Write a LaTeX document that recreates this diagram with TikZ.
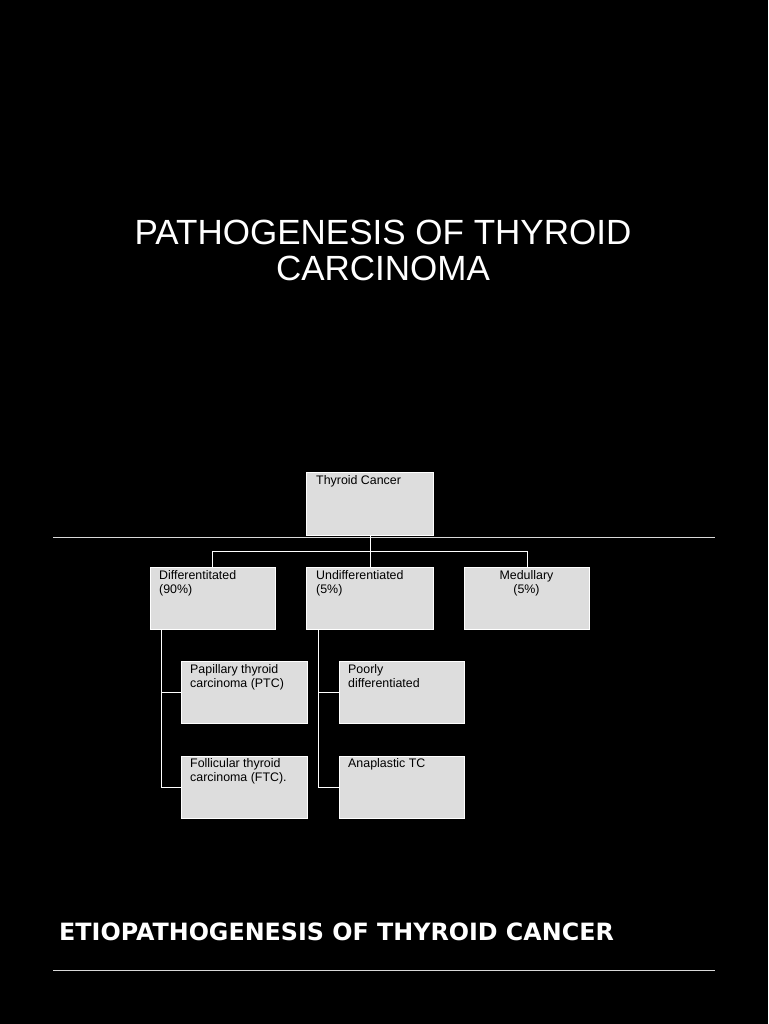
\documentclass[tikz,border=0pt]{standalone}
\usepackage{fontspec}
\setmainfont{Liberation Sans}
\newfontfamily\dejab{DejaVu Sans}
\begin{document}
\begin{tikzpicture}[x=1pt,y=-1pt,
 bx/.style={draw=white,fill={rgb,255:red,221;green,221;blue,221},line width=0.8pt},
 tx/.style={anchor=north west,font=\fontsize{12.4}{14.2}\selectfont,align=left,inner sep=0pt,text=black},
 ln/.style={draw=white,line width=0.7pt}]
\useasboundingbox[fill=black] (0,0) rectangle (768,1024);
\node[text=white,font=\fontsize{35}{36}\selectfont,align=center] (title) at (383,250) {PATHOGENESIS OF THYROID\\CARCINOMA};
\draw[ln,white!85!black] (53,537) -- (715,537);
\draw[bx] (306,472) rectangle (433,535); \coordinate (tc) at (370,535);
\node[tx] (t1) at (316,475) {Thyroid Cancer};
\draw[bx] (150,567) rectangle (275,629);
\node[tx] (t2) at (159,570) {Differentitated\\(90\%)};
\draw[bx] (306,567) rectangle (433,629);
\node[tx] (t3) at (316,570) {Undifferentiated\\(5\%)};
\draw[bx] (464,567) rectangle (589,629);
\node[tx,anchor=north,align=center] (t4) at (526.5,570) {Medullary\\(5\%)};
\draw[bx] (181,661) rectangle (307,723);
\node[tx] (t5) at (190,664) {Papillary thyroid\\carcinoma (PTC)};
\draw[bx] (339,661) rectangle (464,723);
\node[tx] (t6) at (348,664) {Poorly\\differentiated};
\draw[bx] (181,756) rectangle (307,818);
\node[tx] (t7) at (190,758) {Follicular thyroid\\carcinoma (FTC).};
\draw[bx] (339,756) rectangle (464,818);
\node[tx] (t8) at (348,758) {Anaplastic TC};
\draw[ln] (tc) -- (370,551) (212,567) -- (212,551) -- (527,551) -- (527,567) (370,551) -- (370,567);
\draw[ln] (161,629) -- (161,787) -- (181,787) (161,692) -- (181,692);
\draw[ln] (318,629) -- (318,787) -- (339,787) (318,692) -- (339,692);
\node[anchor=west,text=white,font=\dejab\bfseries\fontsize{23.8}{26}\selectfont,inner sep=0pt] (h) at (59,932) {ETIOPATHOGENESIS OF THYROID CANCER};
\draw[ln,white!85!black] (53,970) -- (715,970);
\end{tikzpicture}
\end{document}
